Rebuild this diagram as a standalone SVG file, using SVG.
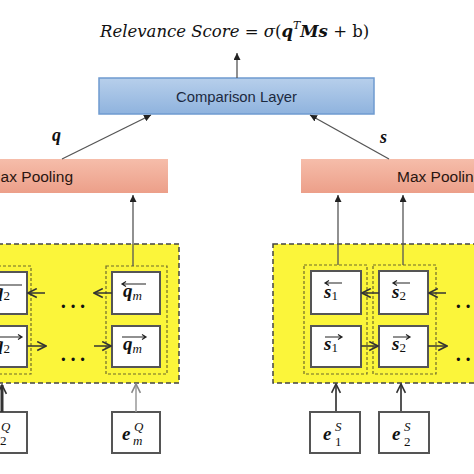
<svg xmlns="http://www.w3.org/2000/svg" width="474" height="474" viewBox="0 0 474 474">
<defs>
<linearGradient id="gBlue" x1="0" y1="0" x2="0" y2="1"><stop offset="0" stop-color="#b7cfeb"/><stop offset="1" stop-color="#8fb3de"/></linearGradient>
<linearGradient id="gSalmon" x1="0" y1="0" x2="0" y2="1"><stop offset="0" stop-color="#f6bdaa"/><stop offset="1" stop-color="#ec9f89"/></linearGradient>
<marker id="tri" viewBox="0 0 8 8" refX="8" refY="4" markerWidth="7" markerHeight="7" markerUnits="userSpaceOnUse" orient="auto"><path d="M0,0 L8,4 L0,8 z" fill="#222"/></marker>
<marker id="veeD" viewBox="0 0 10 10" refX="9" refY="5" markerWidth="11" markerHeight="11" markerUnits="userSpaceOnUse" orient="auto"><path d="M1,1 L9,5 L1,9" fill="none" stroke="#333" stroke-width="1.5"/></marker>
<marker id="veeG" viewBox="0 0 10 10" refX="9" refY="5" markerWidth="11" markerHeight="11" markerUnits="userSpaceOnUse" orient="auto"><path d="M1,1 L9,5 L1,9" fill="none" stroke="#888" stroke-width="1.5"/></marker>
</defs>
<style>
.yel{fill:#fbf53a;stroke:#444;stroke-width:1.5;stroke-dasharray:5,3}
.col{fill:none;stroke:#6f6b2a;stroke-width:1.2;stroke-dasharray:3,2}
.box{fill:#fff;stroke:#555;stroke-width:2}
.math{font-family:"Liberation Serif",serif;fill:#111}
.bi{font-weight:bold;font-style:italic;font-size:19px}
.it{font-style:italic;font-size:13px}
.up{font-size:13px}
.ov{fill:none;stroke:#222;stroke-width:1.2}
.sans{font-family:"Liberation Sans",Arial,sans-serif}
.row{stroke:#333;stroke-width:1.5;fill:none;marker-end:url(#veeD)}
.pool{stroke:#555;stroke-width:1.3;fill:none;marker-end:url(#tri)}
</style>
<rect width="474" height="474" fill="#fff"/>

<g id="formula">
<text x="100" y="37" font-size="16.5" font-family="'DejaVu Serif',serif" fill="#111"><tspan font-style="italic">Relevance Score</tspan> = <tspan font-style="italic">σ</tspan>(<tspan font-weight="bold" font-style="italic">q</tspan><tspan font-style="italic" font-size="11" dy="-8">T</tspan><tspan font-weight="bold" font-style="italic" dy="8">Ms</tspan> + b)</text>
</g>

<g id="comparison">
<rect x="99" y="78" width="275" height="36" fill="url(#gBlue)" stroke="#6f9bd0" stroke-width="1.5"/>
<text class="sans" x="236.5" y="102" font-size="14.8" text-anchor="middle" fill="#1b2940">Comparison Layer</text>
</g>

<g id="pool-left">
<rect x="-120" y="159" width="288" height="34" fill="url(#gSalmon)"/>
<text class="sans" x="73" y="182" font-size="15.5" text-anchor="end" fill="#2a1510">Max Pooling</text>
</g>
<g id="pool-right">
<rect x="301" y="159" width="280" height="34" fill="url(#gSalmon)"/>
<text class="sans" x="397" y="182" font-size="15.5" fill="#2a1510">Max Pooling</text>
</g>

<g id="lbl-q"><text class="math" x="52" y="141" font-size="18" font-weight="bold" font-style="italic">q</text></g>
<g id="lbl-s"><text class="math" x="380" y="143" font-size="18" font-weight="bold" font-style="italic">s</text></g>

<g id="rnn-left">
<rect class="yel" x="-10" y="244" width="189" height="139"/>
<rect class="col" x="-27" y="266" width="58" height="108"/>
<rect class="col" x="106" y="266" width="61" height="108"/>
<rect class="box" x="-21" y="272" width="48" height="42"/>
<rect class="box" x="-21" y="326" width="48" height="41"/>
<rect class="box" x="112" y="272" width="48" height="42"/>
<rect class="box" x="112" y="326" width="48" height="41"/>
<text class="math" font-size="20" font-weight="bold" x="60" y="313" letter-spacing="3">···</text>
<text class="math" font-size="20" font-weight="bold" x="60" y="366" letter-spacing="3">···</text>
</g>

<g id="rnn-right">
<rect class="yel" x="273" y="244" width="215" height="139"/>
<rect class="col" x="304" y="265" width="63" height="109"/>
<rect class="col" x="373" y="265" width="63" height="109"/>
<rect class="box" x="311" y="271" width="50" height="43"/>
<rect class="box" x="311" y="326" width="50" height="41"/>
<rect class="box" x="379" y="271" width="49" height="43"/>
<rect class="box" x="379" y="326" width="49" height="41"/>
<text class="math" font-size="20" font-weight="bold" x="455" y="313" letter-spacing="3">···</text>
<text class="math" font-size="20" font-weight="bold" x="455" y="366" letter-spacing="3">···</text>
</g>

<g id="vec-labels" class="math">
<path class="ov" d="M-8,285 H22 M-4,282.5 L-8,285 L-4,287.5"/>
<text x="-6" y="297"><tspan class="bi">q</tspan><tspan class="up" dy="3">2</tspan></text>
<path class="ov" d="M-8,337 H22 M18,334.5 L22,337 L18,339.5"/>
<text x="-6" y="350"><tspan class="bi">q</tspan><tspan class="up" dy="3">2</tspan></text>

<path class="ov" d="M122,284 H146 M126,281.5 L122,284 L126,286.5"/>
<text x="123" y="297"><tspan class="bi">q</tspan><tspan class="it" font-size="14" dy="3">m</tspan></text>
<path class="ov" d="M122,337 H146 M142,334.5 L146,337 L142,339.5"/>
<text x="123" y="350"><tspan class="bi">q</tspan><tspan class="it" font-size="14" dy="3">m</tspan></text>

<path class="ov" d="M325,283 H342 M329,280.5 L325,283 L329,285.5"/>
<text x="324" y="298"><tspan class="bi">s</tspan><tspan class="up" font-size="14" dy="2">1</tspan></text>
<path class="ov" d="M325,337 H342 M338,334.5 L342,337 L338,339.5"/>
<text x="324" y="350"><tspan class="bi">s</tspan><tspan class="up" font-size="14" dy="2">1</tspan></text>

<path class="ov" d="M393,283 H410 M397,280.5 L393,283 L397,285.5"/>
<text x="392" y="298"><tspan class="bi">s</tspan><tspan class="up" font-size="14" dy="2">2</tspan></text>
<path class="ov" d="M393,337 H410 M406,334.5 L410,337 L406,339.5"/>
<text x="392" y="350"><tspan class="bi">s</tspan><tspan class="up" font-size="14" dy="2">2</tspan></text>
</g>

<g id="emb-q2">
<rect class="box" x="-21" y="412" width="48" height="41"/>
<text class="math bi" x="-10" y="440">e</text>
<text class="math it" x="1" y="431">Q</text>
<text class="math up" x="0" y="445">2</text>
</g>
<g id="emb-qm">
<rect class="box" x="112" y="412" width="48" height="41"/>
<text class="math bi" x="122" y="440">e</text>
<text class="math it" x="134" y="431">Q</text>
<text class="math it" x="133" y="445">m</text>
</g>
<g id="emb-s1">
<rect class="box" x="310" y="412" width="50" height="41"/>
<text class="math bi" x="323" y="440">e</text>
<text class="math it" x="335" y="431">S</text>
<text class="math up" x="335" y="446">1</text>
</g>
<g id="emb-s2">
<rect class="box" x="379" y="412" width="50" height="41"/>
<text class="math bi" x="392" y="440">e</text>
<text class="math it" x="404" y="431">S</text>
<text class="math up" x="404" y="446">2</text>
</g>

<g id="connectors">
<line x1="237" y1="78" x2="237" y2="53" class="pool"/>
<line x1="62" y1="159" x2="151" y2="115" class="pool"/>
<line x1="389" y1="159" x2="310" y2="115" class="pool"/>
<line x1="133" y1="266" x2="133" y2="195" class="pool"/>
<line x1="338" y1="265" x2="338" y2="195" class="pool"/>
<line x1="403" y1="265" x2="403" y2="195" class="pool"/>

<line x1="45" y1="293" x2="28" y2="293" class="row"/>
<line x1="112" y1="293" x2="94" y2="293" class="row"/>
<line x1="27" y1="346" x2="46" y2="346" class="row"/>
<line x1="94" y1="346" x2="111" y2="346" class="row"/>

<line x1="379" y1="293" x2="362" y2="293" class="row"/>
<line x1="446" y1="293" x2="429" y2="293" class="row"/>
<line x1="361" y1="346" x2="378" y2="346" class="row"/>
<line x1="428" y1="346" x2="447" y2="346" class="row"/>

<line x1="2" y1="412" x2="2" y2="385" stroke="#333" stroke-width="3" marker-end="url(#veeD)"/>
<line x1="136" y1="412" x2="136" y2="384" stroke="#999" stroke-width="1.5" marker-end="url(#veeG)"/>
<line x1="336" y1="412" x2="336" y2="384" stroke="#555" stroke-width="2" marker-end="url(#veeD)"/>
<line x1="401" y1="412" x2="401" y2="384" stroke="#555" stroke-width="2" marker-end="url(#veeD)"/>
</g>
</svg>
